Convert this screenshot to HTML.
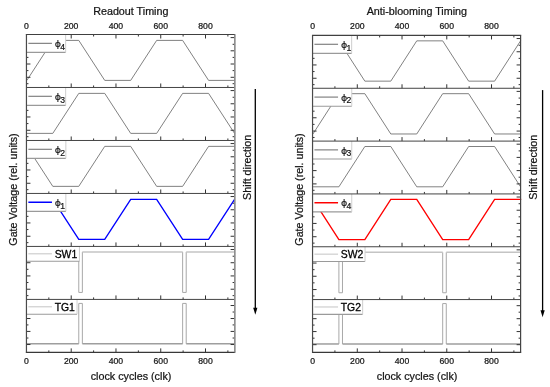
<!DOCTYPE html>
<html><head><meta charset="utf-8"><title>Readout and Anti-blooming Timing</title>
<style>html,body{margin:0;padding:0;background:#fff;width:550px;height:387px;overflow:hidden}svg text{font-family:'Liberation Sans', Arial, sans-serif}</style>
</head><body>
<svg width="550" height="387" viewBox="0 0 550 387" style="position:absolute;left:0;top:0;filter:blur(0.2px)" font-family="'Liberation Sans', Arial, sans-serif">
<rect x="0" y="0" width="550" height="387" fill="#fff"/>
<line x1="48.83" y1="34.50" x2="48.83" y2="36.50" stroke="#333333" stroke-width="1.0"/>
<line x1="71.21" y1="34.50" x2="71.21" y2="38.50" stroke="#333333" stroke-width="1.0"/>
<line x1="93.60" y1="34.50" x2="93.60" y2="36.50" stroke="#333333" stroke-width="1.0"/>
<line x1="115.98" y1="34.50" x2="115.98" y2="38.50" stroke="#333333" stroke-width="1.0"/>
<line x1="138.36" y1="34.50" x2="138.36" y2="36.50" stroke="#333333" stroke-width="1.0"/>
<line x1="160.74" y1="34.50" x2="160.74" y2="38.50" stroke="#333333" stroke-width="1.0"/>
<line x1="183.12" y1="34.50" x2="183.12" y2="36.50" stroke="#333333" stroke-width="1.0"/>
<line x1="205.50" y1="34.50" x2="205.50" y2="38.50" stroke="#333333" stroke-width="1.0"/>
<line x1="227.89" y1="34.50" x2="227.89" y2="36.50" stroke="#333333" stroke-width="1.0"/>
<polyline points="26.85,80.40 52.81,40.40 78.78,40.40 104.74,80.40 130.70,80.40 156.66,40.40 182.63,40.40 208.59,80.40 234.55,80.40 234.60,79.71" fill="none" stroke="#6a6a6a" stroke-width="0.85" stroke-linejoin="miter" />
<line x1="26.45" y1="37.60" x2="30.45" y2="37.60" stroke="#333333" stroke-width="1.0"/>
<line x1="230.60" y1="37.60" x2="234.60" y2="37.60" stroke="#333333" stroke-width="1.0"/>
<line x1="26.45" y1="50.80" x2="30.45" y2="50.80" stroke="#333333" stroke-width="1.0"/>
<line x1="230.60" y1="50.80" x2="234.60" y2="50.80" stroke="#333333" stroke-width="1.0"/>
<line x1="26.45" y1="64.00" x2="30.45" y2="64.00" stroke="#333333" stroke-width="1.0"/>
<line x1="230.60" y1="64.00" x2="234.60" y2="64.00" stroke="#333333" stroke-width="1.0"/>
<line x1="26.45" y1="77.30" x2="30.45" y2="77.30" stroke="#333333" stroke-width="1.0"/>
<line x1="230.60" y1="77.30" x2="234.60" y2="77.30" stroke="#333333" stroke-width="1.0"/>
<line x1="26.45" y1="44.30" x2="28.45" y2="44.30" stroke="#333333" stroke-width="1.0"/>
<line x1="232.60" y1="44.30" x2="234.60" y2="44.30" stroke="#333333" stroke-width="1.0"/>
<line x1="26.45" y1="57.40" x2="28.45" y2="57.40" stroke="#333333" stroke-width="1.0"/>
<line x1="232.60" y1="57.40" x2="234.60" y2="57.40" stroke="#333333" stroke-width="1.0"/>
<line x1="26.45" y1="70.60" x2="28.45" y2="70.60" stroke="#333333" stroke-width="1.0"/>
<line x1="232.60" y1="70.60" x2="234.60" y2="70.60" stroke="#333333" stroke-width="1.0"/>
<line x1="26.45" y1="83.70" x2="28.45" y2="83.70" stroke="#333333" stroke-width="1.0"/>
<line x1="232.60" y1="83.70" x2="234.60" y2="83.70" stroke="#333333" stroke-width="1.0"/>
<line x1="48.83" y1="87.48" x2="48.83" y2="85.48" stroke="#333333" stroke-width="1.0"/>
<line x1="71.21" y1="87.48" x2="71.21" y2="83.48" stroke="#333333" stroke-width="1.0"/>
<line x1="93.60" y1="87.48" x2="93.60" y2="85.48" stroke="#333333" stroke-width="1.0"/>
<line x1="115.98" y1="87.48" x2="115.98" y2="83.48" stroke="#333333" stroke-width="1.0"/>
<line x1="138.36" y1="87.48" x2="138.36" y2="85.48" stroke="#333333" stroke-width="1.0"/>
<line x1="160.74" y1="87.48" x2="160.74" y2="83.48" stroke="#333333" stroke-width="1.0"/>
<line x1="183.12" y1="87.48" x2="183.12" y2="85.48" stroke="#333333" stroke-width="1.0"/>
<line x1="205.50" y1="87.48" x2="205.50" y2="83.48" stroke="#333333" stroke-width="1.0"/>
<line x1="227.89" y1="87.48" x2="227.89" y2="85.48" stroke="#333333" stroke-width="1.0"/>
<rect x="26.45" y="34.50" width="39.20" height="17.90" fill="#fff" stroke="none"/>
<line x1="26.45" y1="52.40" x2="65.65" y2="52.40" stroke="#9a9a9a" stroke-width="1.1"/>
<line x1="65.65" y1="34.50" x2="65.65" y2="52.40" stroke="#cfcfcf" stroke-width="1.0"/>
<line x1="28.35" y1="43.30" x2="51.95" y2="43.30" stroke="#6a6a6a" stroke-width="1.0"/>
<text x="54.85" y="46.90" font-size="9.5" fill="#111" stroke="#111" stroke-width="0.12" style="font-family:'DejaVu Sans', sans-serif">&#981;</text>
<text x="60.35" y="49.60" font-size="8.6" fill="#111" stroke="#111" stroke-width="0.2">4</text>
<polyline points="26.85,133.38 52.81,133.38 78.78,93.38 104.74,93.38 130.70,133.38 156.66,133.38 182.63,93.38 208.59,93.38 234.55,133.38 234.60,133.38" fill="none" stroke="#6a6a6a" stroke-width="0.85" stroke-linejoin="miter" />
<line x1="26.45" y1="90.58" x2="30.45" y2="90.58" stroke="#333333" stroke-width="1.0"/>
<line x1="230.60" y1="90.58" x2="234.60" y2="90.58" stroke="#333333" stroke-width="1.0"/>
<line x1="26.45" y1="103.78" x2="30.45" y2="103.78" stroke="#333333" stroke-width="1.0"/>
<line x1="230.60" y1="103.78" x2="234.60" y2="103.78" stroke="#333333" stroke-width="1.0"/>
<line x1="26.45" y1="116.98" x2="30.45" y2="116.98" stroke="#333333" stroke-width="1.0"/>
<line x1="230.60" y1="116.98" x2="234.60" y2="116.98" stroke="#333333" stroke-width="1.0"/>
<line x1="26.45" y1="130.28" x2="30.45" y2="130.28" stroke="#333333" stroke-width="1.0"/>
<line x1="230.60" y1="130.28" x2="234.60" y2="130.28" stroke="#333333" stroke-width="1.0"/>
<line x1="26.45" y1="97.28" x2="28.45" y2="97.28" stroke="#333333" stroke-width="1.0"/>
<line x1="232.60" y1="97.28" x2="234.60" y2="97.28" stroke="#333333" stroke-width="1.0"/>
<line x1="26.45" y1="110.38" x2="28.45" y2="110.38" stroke="#333333" stroke-width="1.0"/>
<line x1="232.60" y1="110.38" x2="234.60" y2="110.38" stroke="#333333" stroke-width="1.0"/>
<line x1="26.45" y1="123.58" x2="28.45" y2="123.58" stroke="#333333" stroke-width="1.0"/>
<line x1="232.60" y1="123.58" x2="234.60" y2="123.58" stroke="#333333" stroke-width="1.0"/>
<line x1="26.45" y1="136.68" x2="28.45" y2="136.68" stroke="#333333" stroke-width="1.0"/>
<line x1="232.60" y1="136.68" x2="234.60" y2="136.68" stroke="#333333" stroke-width="1.0"/>
<line x1="48.83" y1="140.47" x2="48.83" y2="138.47" stroke="#333333" stroke-width="1.0"/>
<line x1="71.21" y1="140.47" x2="71.21" y2="136.47" stroke="#333333" stroke-width="1.0"/>
<line x1="93.60" y1="140.47" x2="93.60" y2="138.47" stroke="#333333" stroke-width="1.0"/>
<line x1="115.98" y1="140.47" x2="115.98" y2="136.47" stroke="#333333" stroke-width="1.0"/>
<line x1="138.36" y1="140.47" x2="138.36" y2="138.47" stroke="#333333" stroke-width="1.0"/>
<line x1="160.74" y1="140.47" x2="160.74" y2="136.47" stroke="#333333" stroke-width="1.0"/>
<line x1="183.12" y1="140.47" x2="183.12" y2="138.47" stroke="#333333" stroke-width="1.0"/>
<line x1="205.50" y1="140.47" x2="205.50" y2="136.47" stroke="#333333" stroke-width="1.0"/>
<line x1="227.89" y1="140.47" x2="227.89" y2="138.47" stroke="#333333" stroke-width="1.0"/>
<rect x="26.45" y="87.48" width="39.20" height="17.90" fill="#fff" stroke="none"/>
<line x1="26.45" y1="105.38" x2="65.65" y2="105.38" stroke="#9a9a9a" stroke-width="1.1"/>
<line x1="65.65" y1="87.48" x2="65.65" y2="105.38" stroke="#cfcfcf" stroke-width="1.0"/>
<line x1="28.35" y1="96.28" x2="51.95" y2="96.28" stroke="#6a6a6a" stroke-width="1.0"/>
<text x="54.85" y="99.88" font-size="9.5" fill="#111" stroke="#111" stroke-width="0.12" style="font-family:'DejaVu Sans', sans-serif">&#981;</text>
<text x="60.35" y="102.58" font-size="8.6" fill="#111" stroke="#111" stroke-width="0.2">3</text>
<polyline points="26.85,146.37 52.81,186.37 78.78,186.37 104.74,146.37 130.70,146.37 156.66,186.37 182.63,186.37 208.59,146.37 234.55,146.37 234.60,147.06" fill="none" stroke="#6a6a6a" stroke-width="0.85" stroke-linejoin="miter" />
<line x1="26.45" y1="143.57" x2="30.45" y2="143.57" stroke="#333333" stroke-width="1.0"/>
<line x1="230.60" y1="143.57" x2="234.60" y2="143.57" stroke="#333333" stroke-width="1.0"/>
<line x1="26.45" y1="156.77" x2="30.45" y2="156.77" stroke="#333333" stroke-width="1.0"/>
<line x1="230.60" y1="156.77" x2="234.60" y2="156.77" stroke="#333333" stroke-width="1.0"/>
<line x1="26.45" y1="169.97" x2="30.45" y2="169.97" stroke="#333333" stroke-width="1.0"/>
<line x1="230.60" y1="169.97" x2="234.60" y2="169.97" stroke="#333333" stroke-width="1.0"/>
<line x1="26.45" y1="183.27" x2="30.45" y2="183.27" stroke="#333333" stroke-width="1.0"/>
<line x1="230.60" y1="183.27" x2="234.60" y2="183.27" stroke="#333333" stroke-width="1.0"/>
<line x1="26.45" y1="150.27" x2="28.45" y2="150.27" stroke="#333333" stroke-width="1.0"/>
<line x1="232.60" y1="150.27" x2="234.60" y2="150.27" stroke="#333333" stroke-width="1.0"/>
<line x1="26.45" y1="163.37" x2="28.45" y2="163.37" stroke="#333333" stroke-width="1.0"/>
<line x1="232.60" y1="163.37" x2="234.60" y2="163.37" stroke="#333333" stroke-width="1.0"/>
<line x1="26.45" y1="176.57" x2="28.45" y2="176.57" stroke="#333333" stroke-width="1.0"/>
<line x1="232.60" y1="176.57" x2="234.60" y2="176.57" stroke="#333333" stroke-width="1.0"/>
<line x1="26.45" y1="189.67" x2="28.45" y2="189.67" stroke="#333333" stroke-width="1.0"/>
<line x1="232.60" y1="189.67" x2="234.60" y2="189.67" stroke="#333333" stroke-width="1.0"/>
<line x1="48.83" y1="193.45" x2="48.83" y2="191.45" stroke="#333333" stroke-width="1.0"/>
<line x1="71.21" y1="193.45" x2="71.21" y2="189.45" stroke="#333333" stroke-width="1.0"/>
<line x1="93.60" y1="193.45" x2="93.60" y2="191.45" stroke="#333333" stroke-width="1.0"/>
<line x1="115.98" y1="193.45" x2="115.98" y2="189.45" stroke="#333333" stroke-width="1.0"/>
<line x1="138.36" y1="193.45" x2="138.36" y2="191.45" stroke="#333333" stroke-width="1.0"/>
<line x1="160.74" y1="193.45" x2="160.74" y2="189.45" stroke="#333333" stroke-width="1.0"/>
<line x1="183.12" y1="193.45" x2="183.12" y2="191.45" stroke="#333333" stroke-width="1.0"/>
<line x1="205.50" y1="193.45" x2="205.50" y2="189.45" stroke="#333333" stroke-width="1.0"/>
<line x1="227.89" y1="193.45" x2="227.89" y2="191.45" stroke="#333333" stroke-width="1.0"/>
<rect x="26.45" y="140.47" width="39.40" height="17.90" fill="#fff" stroke="none"/>
<line x1="26.45" y1="158.37" x2="65.85" y2="158.37" stroke="#9a9a9a" stroke-width="1.1"/>
<line x1="65.85" y1="140.47" x2="65.85" y2="158.37" stroke="#cfcfcf" stroke-width="1.0"/>
<line x1="28.35" y1="149.27" x2="51.95" y2="149.27" stroke="#6a6a6a" stroke-width="1.0"/>
<text x="54.85" y="152.87" font-size="9.5" fill="#111" stroke="#111" stroke-width="0.12" style="font-family:'DejaVu Sans', sans-serif">&#981;</text>
<text x="60.35" y="155.57" font-size="8.6" fill="#111" stroke="#111" stroke-width="0.2">2</text>
<polyline points="26.85,199.35 52.81,199.35 78.78,239.35 104.74,239.35 130.70,199.35 156.66,199.35 182.63,239.35 208.59,239.35 234.55,199.35 234.60,199.35" fill="none" stroke="#0000ff" stroke-width="1.35" stroke-linejoin="miter" />
<line x1="26.45" y1="196.55" x2="30.45" y2="196.55" stroke="#333333" stroke-width="1.0"/>
<line x1="230.60" y1="196.55" x2="234.60" y2="196.55" stroke="#333333" stroke-width="1.0"/>
<line x1="26.45" y1="209.75" x2="30.45" y2="209.75" stroke="#333333" stroke-width="1.0"/>
<line x1="230.60" y1="209.75" x2="234.60" y2="209.75" stroke="#333333" stroke-width="1.0"/>
<line x1="26.45" y1="222.95" x2="30.45" y2="222.95" stroke="#333333" stroke-width="1.0"/>
<line x1="230.60" y1="222.95" x2="234.60" y2="222.95" stroke="#333333" stroke-width="1.0"/>
<line x1="26.45" y1="236.25" x2="30.45" y2="236.25" stroke="#333333" stroke-width="1.0"/>
<line x1="230.60" y1="236.25" x2="234.60" y2="236.25" stroke="#333333" stroke-width="1.0"/>
<line x1="26.45" y1="203.25" x2="28.45" y2="203.25" stroke="#333333" stroke-width="1.0"/>
<line x1="232.60" y1="203.25" x2="234.60" y2="203.25" stroke="#333333" stroke-width="1.0"/>
<line x1="26.45" y1="216.35" x2="28.45" y2="216.35" stroke="#333333" stroke-width="1.0"/>
<line x1="232.60" y1="216.35" x2="234.60" y2="216.35" stroke="#333333" stroke-width="1.0"/>
<line x1="26.45" y1="229.55" x2="28.45" y2="229.55" stroke="#333333" stroke-width="1.0"/>
<line x1="232.60" y1="229.55" x2="234.60" y2="229.55" stroke="#333333" stroke-width="1.0"/>
<line x1="26.45" y1="242.65" x2="28.45" y2="242.65" stroke="#333333" stroke-width="1.0"/>
<line x1="232.60" y1="242.65" x2="234.60" y2="242.65" stroke="#333333" stroke-width="1.0"/>
<line x1="48.83" y1="246.43" x2="48.83" y2="244.43" stroke="#333333" stroke-width="1.0"/>
<line x1="71.21" y1="246.43" x2="71.21" y2="242.43" stroke="#333333" stroke-width="1.0"/>
<line x1="93.60" y1="246.43" x2="93.60" y2="244.43" stroke="#333333" stroke-width="1.0"/>
<line x1="115.98" y1="246.43" x2="115.98" y2="242.43" stroke="#333333" stroke-width="1.0"/>
<line x1="138.36" y1="246.43" x2="138.36" y2="244.43" stroke="#333333" stroke-width="1.0"/>
<line x1="160.74" y1="246.43" x2="160.74" y2="242.43" stroke="#333333" stroke-width="1.0"/>
<line x1="183.12" y1="246.43" x2="183.12" y2="244.43" stroke="#333333" stroke-width="1.0"/>
<line x1="205.50" y1="246.43" x2="205.50" y2="242.43" stroke="#333333" stroke-width="1.0"/>
<line x1="227.89" y1="246.43" x2="227.89" y2="244.43" stroke="#333333" stroke-width="1.0"/>
<rect x="26.45" y="193.45" width="39.40" height="17.90" fill="#fff" stroke="none"/>
<line x1="26.45" y1="211.35" x2="65.85" y2="211.35" stroke="#9a9a9a" stroke-width="1.1"/>
<line x1="65.85" y1="193.45" x2="65.85" y2="211.35" stroke="#cfcfcf" stroke-width="1.0"/>
<line x1="28.35" y1="202.25" x2="51.95" y2="202.25" stroke="#0000ff" stroke-width="1.5"/>
<text x="54.85" y="205.85" font-size="9.5" fill="#111" stroke="#111" stroke-width="0.12" style="font-family:'DejaVu Sans', sans-serif">&#981;</text>
<text x="60.35" y="208.55" font-size="8.6" fill="#111" stroke="#111" stroke-width="0.2">1</text>
<polyline points="78.78,251.93 78.78,292.43 82.36,292.43 82.36,251.93" fill="none" stroke="#a8a8a8" stroke-width="1.0" stroke-linejoin="miter" />
<polyline points="182.63,251.93 182.63,292.43 186.21,292.43 186.21,251.93" fill="none" stroke="#a8a8a8" stroke-width="1.0" stroke-linejoin="miter" />
<line x1="26.45" y1="251.93" x2="78.78" y2="251.93" stroke="#c4c4c4" stroke-width="1.6"/>
<line x1="82.36" y1="251.93" x2="182.63" y2="251.93" stroke="#c4c4c4" stroke-width="1.6"/>
<line x1="186.21" y1="251.93" x2="234.60" y2="251.93" stroke="#c4c4c4" stroke-width="1.6"/>
<line x1="26.45" y1="249.53" x2="30.45" y2="249.53" stroke="#333333" stroke-width="1.0"/>
<line x1="230.60" y1="249.53" x2="234.60" y2="249.53" stroke="#333333" stroke-width="1.0"/>
<line x1="26.45" y1="262.73" x2="30.45" y2="262.73" stroke="#333333" stroke-width="1.0"/>
<line x1="230.60" y1="262.73" x2="234.60" y2="262.73" stroke="#333333" stroke-width="1.0"/>
<line x1="26.45" y1="275.93" x2="30.45" y2="275.93" stroke="#333333" stroke-width="1.0"/>
<line x1="230.60" y1="275.93" x2="234.60" y2="275.93" stroke="#333333" stroke-width="1.0"/>
<line x1="26.45" y1="289.23" x2="30.45" y2="289.23" stroke="#333333" stroke-width="1.0"/>
<line x1="230.60" y1="289.23" x2="234.60" y2="289.23" stroke="#333333" stroke-width="1.0"/>
<line x1="26.45" y1="256.23" x2="28.45" y2="256.23" stroke="#333333" stroke-width="1.0"/>
<line x1="232.60" y1="256.23" x2="234.60" y2="256.23" stroke="#333333" stroke-width="1.0"/>
<line x1="26.45" y1="269.33" x2="28.45" y2="269.33" stroke="#333333" stroke-width="1.0"/>
<line x1="232.60" y1="269.33" x2="234.60" y2="269.33" stroke="#333333" stroke-width="1.0"/>
<line x1="26.45" y1="282.53" x2="28.45" y2="282.53" stroke="#333333" stroke-width="1.0"/>
<line x1="232.60" y1="282.53" x2="234.60" y2="282.53" stroke="#333333" stroke-width="1.0"/>
<line x1="26.45" y1="295.63" x2="28.45" y2="295.63" stroke="#333333" stroke-width="1.0"/>
<line x1="232.60" y1="295.63" x2="234.60" y2="295.63" stroke="#333333" stroke-width="1.0"/>
<line x1="48.83" y1="299.42" x2="48.83" y2="297.42" stroke="#333333" stroke-width="1.0"/>
<line x1="71.21" y1="299.42" x2="71.21" y2="295.42" stroke="#333333" stroke-width="1.0"/>
<line x1="93.60" y1="299.42" x2="93.60" y2="297.42" stroke="#333333" stroke-width="1.0"/>
<line x1="115.98" y1="299.42" x2="115.98" y2="295.42" stroke="#333333" stroke-width="1.0"/>
<line x1="138.36" y1="299.42" x2="138.36" y2="297.42" stroke="#333333" stroke-width="1.0"/>
<line x1="160.74" y1="299.42" x2="160.74" y2="295.42" stroke="#333333" stroke-width="1.0"/>
<line x1="183.12" y1="299.42" x2="183.12" y2="297.42" stroke="#333333" stroke-width="1.0"/>
<line x1="205.50" y1="299.42" x2="205.50" y2="295.42" stroke="#333333" stroke-width="1.0"/>
<line x1="227.89" y1="299.42" x2="227.89" y2="297.42" stroke="#333333" stroke-width="1.0"/>
<rect x="26.45" y="246.43" width="53.00" height="14.80" fill="#fff" stroke="none"/>
<line x1="26.45" y1="261.23" x2="79.45" y2="261.23" stroke="#9a9a9a" stroke-width="1.1"/>
<line x1="79.45" y1="246.43" x2="79.45" y2="261.23" stroke="#cfcfcf" stroke-width="1.0"/>
<line x1="28.35" y1="253.83" x2="51.95" y2="253.83" stroke="#c4c4c4" stroke-width="1.0"/>
<text x="54.65" y="257.53" font-size="10.4" fill="#000" stroke="#000" stroke-width="0.28">SW1</text>
<polyline points="78.78,343.82 78.78,303.42 82.36,303.42 82.36,343.82" fill="none" stroke="#a8a8a8" stroke-width="1.0" stroke-linejoin="miter" />
<polyline points="182.63,343.82 182.63,303.42 186.21,303.42 186.21,343.82" fill="none" stroke="#a8a8a8" stroke-width="1.0" stroke-linejoin="miter" />
<line x1="26.45" y1="343.82" x2="78.78" y2="343.82" stroke="#9e9e9e" stroke-width="1.5"/>
<line x1="82.36" y1="343.82" x2="182.63" y2="343.82" stroke="#9e9e9e" stroke-width="1.5"/>
<line x1="186.21" y1="343.82" x2="234.60" y2="343.82" stroke="#9e9e9e" stroke-width="1.5"/>
<line x1="26.45" y1="305.52" x2="30.45" y2="305.52" stroke="#333333" stroke-width="1.0"/>
<line x1="230.60" y1="305.52" x2="234.60" y2="305.52" stroke="#333333" stroke-width="1.0"/>
<line x1="26.45" y1="318.52" x2="30.45" y2="318.52" stroke="#333333" stroke-width="1.0"/>
<line x1="230.60" y1="318.52" x2="234.60" y2="318.52" stroke="#333333" stroke-width="1.0"/>
<line x1="26.45" y1="331.42" x2="30.45" y2="331.42" stroke="#333333" stroke-width="1.0"/>
<line x1="230.60" y1="331.42" x2="234.60" y2="331.42" stroke="#333333" stroke-width="1.0"/>
<line x1="26.45" y1="344.52" x2="30.45" y2="344.52" stroke="#333333" stroke-width="1.0"/>
<line x1="230.60" y1="344.52" x2="234.60" y2="344.52" stroke="#333333" stroke-width="1.0"/>
<line x1="26.45" y1="312.02" x2="28.45" y2="312.02" stroke="#333333" stroke-width="1.0"/>
<line x1="232.60" y1="312.02" x2="234.60" y2="312.02" stroke="#333333" stroke-width="1.0"/>
<line x1="26.45" y1="324.92" x2="28.45" y2="324.92" stroke="#333333" stroke-width="1.0"/>
<line x1="232.60" y1="324.92" x2="234.60" y2="324.92" stroke="#333333" stroke-width="1.0"/>
<line x1="26.45" y1="338.02" x2="28.45" y2="338.02" stroke="#333333" stroke-width="1.0"/>
<line x1="232.60" y1="338.02" x2="234.60" y2="338.02" stroke="#333333" stroke-width="1.0"/>
<line x1="48.83" y1="352.40" x2="48.83" y2="350.40" stroke="#333333" stroke-width="1.0"/>
<line x1="71.21" y1="352.40" x2="71.21" y2="348.40" stroke="#333333" stroke-width="1.0"/>
<line x1="93.60" y1="352.40" x2="93.60" y2="350.40" stroke="#333333" stroke-width="1.0"/>
<line x1="115.98" y1="352.40" x2="115.98" y2="348.40" stroke="#333333" stroke-width="1.0"/>
<line x1="138.36" y1="352.40" x2="138.36" y2="350.40" stroke="#333333" stroke-width="1.0"/>
<line x1="160.74" y1="352.40" x2="160.74" y2="348.40" stroke="#333333" stroke-width="1.0"/>
<line x1="183.12" y1="352.40" x2="183.12" y2="350.40" stroke="#333333" stroke-width="1.0"/>
<line x1="205.50" y1="352.40" x2="205.50" y2="348.40" stroke="#333333" stroke-width="1.0"/>
<line x1="227.89" y1="352.40" x2="227.89" y2="350.40" stroke="#333333" stroke-width="1.0"/>
<rect x="26.45" y="299.42" width="50.60" height="14.80" fill="#fff" stroke="none"/>
<line x1="26.45" y1="314.22" x2="77.05" y2="314.22" stroke="#9a9a9a" stroke-width="1.1"/>
<line x1="77.05" y1="299.42" x2="77.05" y2="314.22" stroke="#cfcfcf" stroke-width="1.0"/>
<line x1="28.35" y1="306.82" x2="51.95" y2="306.82" stroke="#c4c4c4" stroke-width="1.0"/>
<text x="54.65" y="310.52" font-size="10.4" fill="#000" stroke="#000" stroke-width="0.28">TG1</text>
<line x1="26.45" y1="87.48" x2="234.60" y2="87.48" stroke="#444444" stroke-width="1.0"/>
<line x1="26.45" y1="140.47" x2="234.60" y2="140.47" stroke="#444444" stroke-width="1.0"/>
<line x1="26.45" y1="193.45" x2="234.60" y2="193.45" stroke="#444444" stroke-width="1.0"/>
<line x1="26.45" y1="246.43" x2="234.60" y2="246.43" stroke="#444444" stroke-width="1.0"/>
<line x1="26.45" y1="299.42" x2="234.60" y2="299.42" stroke="#444444" stroke-width="1.0"/>
<line x1="25.85" y1="34.50" x2="235.20" y2="34.50" stroke="#404040" stroke-width="1.2"/>
<line x1="25.85" y1="352.40" x2="235.20" y2="352.40" stroke="#383838" stroke-width="1.2"/>
<line x1="26.45" y1="34.50" x2="26.45" y2="352.40" stroke="#4a4a4a" stroke-width="1.2"/>
<line x1="234.85" y1="34.50" x2="234.85" y2="352.40" stroke="#8a8a8a" stroke-width="1.6"/>
<text x="0.00" y="0.00" font-size="9.2" text-anchor="middle" fill="#151515" stroke="#151515" stroke-width="0.25" transform="translate(26.45 28.55) scale(0.94 1)">0</text>
<text x="0.00" y="0.00" font-size="9.2" text-anchor="middle" fill="#151515" stroke="#151515" stroke-width="0.25" transform="translate(26.45 363.75) scale(0.94 1)">0</text>
<text x="0.00" y="0.00" font-size="9.2" text-anchor="middle" fill="#151515" stroke="#151515" stroke-width="0.25" transform="translate(71.21 28.55) scale(0.94 1)">200</text>
<text x="0.00" y="0.00" font-size="9.2" text-anchor="middle" fill="#151515" stroke="#151515" stroke-width="0.25" transform="translate(71.21 363.75) scale(0.94 1)">200</text>
<text x="0.00" y="0.00" font-size="9.2" text-anchor="middle" fill="#151515" stroke="#151515" stroke-width="0.25" transform="translate(115.98 28.55) scale(0.94 1)">400</text>
<text x="0.00" y="0.00" font-size="9.2" text-anchor="middle" fill="#151515" stroke="#151515" stroke-width="0.25" transform="translate(115.98 363.75) scale(0.94 1)">400</text>
<text x="0.00" y="0.00" font-size="9.2" text-anchor="middle" fill="#151515" stroke="#151515" stroke-width="0.25" transform="translate(160.74 28.55) scale(0.94 1)">600</text>
<text x="0.00" y="0.00" font-size="9.2" text-anchor="middle" fill="#151515" stroke="#151515" stroke-width="0.25" transform="translate(160.74 363.75) scale(0.94 1)">600</text>
<text x="0.00" y="0.00" font-size="9.2" text-anchor="middle" fill="#151515" stroke="#151515" stroke-width="0.25" transform="translate(205.50 28.55) scale(0.94 1)">800</text>
<text x="0.00" y="0.00" font-size="9.2" text-anchor="middle" fill="#151515" stroke="#151515" stroke-width="0.25" transform="translate(205.50 363.75) scale(0.94 1)">800</text>
<text x="130.83" y="15.20" font-size="10.75" text-anchor="middle" fill="#151515" stroke="#151515" stroke-width="0.24" >Readout Timing</text>
<text x="131.03" y="379.80" font-size="10.75" text-anchor="middle" fill="#151515" stroke="#151515" stroke-width="0.24" >clock cycles (clk)</text>
<text x="17.40" y="189.50" font-size="10.7" text-anchor="middle" fill="#151515" stroke="#151515" stroke-width="0.24" transform="rotate(-90 17.4 189.5)">Gate Voltage (rel. units)</text>
<line x1="255.30" y1="89.10" x2="255.30" y2="309.70" stroke="#000" stroke-width="1.3"/>
<path d="M253.20,307.70 L257.40,307.70 L255.30,314.70 Z" fill="#000"/>
<text x="251.50" y="167.30" font-size="10.75" text-anchor="middle" fill="#151515" stroke="#151515" stroke-width="0.24" transform="rotate(-90 251.5 167.3)">Shift direction</text>
<line x1="334.92" y1="35.45" x2="334.92" y2="37.45" stroke="#333333" stroke-width="1.0"/>
<line x1="357.29" y1="35.45" x2="357.29" y2="39.45" stroke="#333333" stroke-width="1.0"/>
<line x1="379.66" y1="35.45" x2="379.66" y2="37.45" stroke="#333333" stroke-width="1.0"/>
<line x1="402.03" y1="35.45" x2="402.03" y2="39.45" stroke="#333333" stroke-width="1.0"/>
<line x1="424.40" y1="35.45" x2="424.40" y2="37.45" stroke="#333333" stroke-width="1.0"/>
<line x1="446.78" y1="35.45" x2="446.78" y2="39.45" stroke="#333333" stroke-width="1.0"/>
<line x1="469.15" y1="35.45" x2="469.15" y2="37.45" stroke="#333333" stroke-width="1.0"/>
<line x1="491.52" y1="35.45" x2="491.52" y2="39.45" stroke="#333333" stroke-width="1.0"/>
<line x1="513.89" y1="35.45" x2="513.89" y2="37.45" stroke="#333333" stroke-width="1.0"/>
<polyline points="312.95,40.85 338.90,40.85 364.85,81.15 390.80,81.15 416.75,40.85 442.70,40.85 468.65,81.15 494.60,81.15 520.55,40.85 520.60,40.85" fill="none" stroke="#6a6a6a" stroke-width="0.85" stroke-linejoin="miter" />
<line x1="312.55" y1="38.55" x2="316.55" y2="38.55" stroke="#333333" stroke-width="1.0"/>
<line x1="516.60" y1="38.55" x2="520.60" y2="38.55" stroke="#333333" stroke-width="1.0"/>
<line x1="312.55" y1="51.75" x2="316.55" y2="51.75" stroke="#333333" stroke-width="1.0"/>
<line x1="516.60" y1="51.75" x2="520.60" y2="51.75" stroke="#333333" stroke-width="1.0"/>
<line x1="312.55" y1="64.95" x2="316.55" y2="64.95" stroke="#333333" stroke-width="1.0"/>
<line x1="516.60" y1="64.95" x2="520.60" y2="64.95" stroke="#333333" stroke-width="1.0"/>
<line x1="312.55" y1="78.25" x2="316.55" y2="78.25" stroke="#333333" stroke-width="1.0"/>
<line x1="516.60" y1="78.25" x2="520.60" y2="78.25" stroke="#333333" stroke-width="1.0"/>
<line x1="312.55" y1="45.25" x2="314.55" y2="45.25" stroke="#333333" stroke-width="1.0"/>
<line x1="518.60" y1="45.25" x2="520.60" y2="45.25" stroke="#333333" stroke-width="1.0"/>
<line x1="312.55" y1="58.35" x2="314.55" y2="58.35" stroke="#333333" stroke-width="1.0"/>
<line x1="518.60" y1="58.35" x2="520.60" y2="58.35" stroke="#333333" stroke-width="1.0"/>
<line x1="312.55" y1="71.55" x2="314.55" y2="71.55" stroke="#333333" stroke-width="1.0"/>
<line x1="518.60" y1="71.55" x2="520.60" y2="71.55" stroke="#333333" stroke-width="1.0"/>
<line x1="312.55" y1="84.65" x2="314.55" y2="84.65" stroke="#333333" stroke-width="1.0"/>
<line x1="518.60" y1="84.65" x2="520.60" y2="84.65" stroke="#333333" stroke-width="1.0"/>
<line x1="334.92" y1="88.28" x2="334.92" y2="86.28" stroke="#333333" stroke-width="1.0"/>
<line x1="357.29" y1="88.28" x2="357.29" y2="84.28" stroke="#333333" stroke-width="1.0"/>
<line x1="379.66" y1="88.28" x2="379.66" y2="86.28" stroke="#333333" stroke-width="1.0"/>
<line x1="402.03" y1="88.28" x2="402.03" y2="84.28" stroke="#333333" stroke-width="1.0"/>
<line x1="424.40" y1="88.28" x2="424.40" y2="86.28" stroke="#333333" stroke-width="1.0"/>
<line x1="446.78" y1="88.28" x2="446.78" y2="84.28" stroke="#333333" stroke-width="1.0"/>
<line x1="469.15" y1="88.28" x2="469.15" y2="86.28" stroke="#333333" stroke-width="1.0"/>
<line x1="491.52" y1="88.28" x2="491.52" y2="84.28" stroke="#333333" stroke-width="1.0"/>
<line x1="513.89" y1="88.28" x2="513.89" y2="86.28" stroke="#333333" stroke-width="1.0"/>
<rect x="312.55" y="35.45" width="39.10" height="17.90" fill="#fff" stroke="none"/>
<line x1="312.55" y1="53.35" x2="351.65" y2="53.35" stroke="#9a9a9a" stroke-width="1.1"/>
<line x1="351.65" y1="35.45" x2="351.65" y2="53.35" stroke="#cfcfcf" stroke-width="1.0"/>
<line x1="314.45" y1="44.25" x2="338.05" y2="44.25" stroke="#6a6a6a" stroke-width="1.0"/>
<text x="340.95" y="47.85" font-size="9.5" fill="#111" stroke="#111" stroke-width="0.12" style="font-family:'DejaVu Sans', sans-serif">&#981;</text>
<text x="346.45" y="50.55" font-size="8.6" fill="#111" stroke="#111" stroke-width="0.2">1</text>
<polyline points="312.95,133.98 338.90,93.68 364.85,93.68 390.80,133.98 416.75,133.98 442.70,93.68 468.65,93.68 494.60,133.98 520.55,133.98 520.60,133.28" fill="none" stroke="#6a6a6a" stroke-width="0.85" stroke-linejoin="miter" />
<line x1="312.55" y1="91.38" x2="316.55" y2="91.38" stroke="#333333" stroke-width="1.0"/>
<line x1="516.60" y1="91.38" x2="520.60" y2="91.38" stroke="#333333" stroke-width="1.0"/>
<line x1="312.55" y1="104.58" x2="316.55" y2="104.58" stroke="#333333" stroke-width="1.0"/>
<line x1="516.60" y1="104.58" x2="520.60" y2="104.58" stroke="#333333" stroke-width="1.0"/>
<line x1="312.55" y1="117.78" x2="316.55" y2="117.78" stroke="#333333" stroke-width="1.0"/>
<line x1="516.60" y1="117.78" x2="520.60" y2="117.78" stroke="#333333" stroke-width="1.0"/>
<line x1="312.55" y1="131.07" x2="316.55" y2="131.07" stroke="#333333" stroke-width="1.0"/>
<line x1="516.60" y1="131.07" x2="520.60" y2="131.07" stroke="#333333" stroke-width="1.0"/>
<line x1="312.55" y1="98.08" x2="314.55" y2="98.08" stroke="#333333" stroke-width="1.0"/>
<line x1="518.60" y1="98.08" x2="520.60" y2="98.08" stroke="#333333" stroke-width="1.0"/>
<line x1="312.55" y1="111.18" x2="314.55" y2="111.18" stroke="#333333" stroke-width="1.0"/>
<line x1="518.60" y1="111.18" x2="520.60" y2="111.18" stroke="#333333" stroke-width="1.0"/>
<line x1="312.55" y1="124.38" x2="314.55" y2="124.38" stroke="#333333" stroke-width="1.0"/>
<line x1="518.60" y1="124.38" x2="520.60" y2="124.38" stroke="#333333" stroke-width="1.0"/>
<line x1="312.55" y1="137.48" x2="314.55" y2="137.48" stroke="#333333" stroke-width="1.0"/>
<line x1="518.60" y1="137.48" x2="520.60" y2="137.48" stroke="#333333" stroke-width="1.0"/>
<line x1="334.92" y1="141.10" x2="334.92" y2="139.10" stroke="#333333" stroke-width="1.0"/>
<line x1="357.29" y1="141.10" x2="357.29" y2="137.10" stroke="#333333" stroke-width="1.0"/>
<line x1="379.66" y1="141.10" x2="379.66" y2="139.10" stroke="#333333" stroke-width="1.0"/>
<line x1="402.03" y1="141.10" x2="402.03" y2="137.10" stroke="#333333" stroke-width="1.0"/>
<line x1="424.40" y1="141.10" x2="424.40" y2="139.10" stroke="#333333" stroke-width="1.0"/>
<line x1="446.78" y1="141.10" x2="446.78" y2="137.10" stroke="#333333" stroke-width="1.0"/>
<line x1="469.15" y1="141.10" x2="469.15" y2="139.10" stroke="#333333" stroke-width="1.0"/>
<line x1="491.52" y1="141.10" x2="491.52" y2="137.10" stroke="#333333" stroke-width="1.0"/>
<line x1="513.89" y1="141.10" x2="513.89" y2="139.10" stroke="#333333" stroke-width="1.0"/>
<rect x="312.55" y="88.28" width="39.20" height="17.90" fill="#fff" stroke="none"/>
<line x1="312.55" y1="106.18" x2="351.75" y2="106.18" stroke="#9a9a9a" stroke-width="1.1"/>
<line x1="351.75" y1="88.28" x2="351.75" y2="106.18" stroke="#cfcfcf" stroke-width="1.0"/>
<line x1="314.45" y1="97.08" x2="338.05" y2="97.08" stroke="#6a6a6a" stroke-width="1.0"/>
<text x="340.95" y="100.68" font-size="9.5" fill="#111" stroke="#111" stroke-width="0.12" style="font-family:'DejaVu Sans', sans-serif">&#981;</text>
<text x="346.45" y="103.38" font-size="8.6" fill="#111" stroke="#111" stroke-width="0.2">2</text>
<polyline points="312.95,186.80 338.90,186.80 364.85,146.50 390.80,146.50 416.75,186.80 442.70,186.80 468.65,146.50 494.60,146.50 520.55,186.80 520.60,186.80" fill="none" stroke="#6a6a6a" stroke-width="0.85" stroke-linejoin="miter" />
<line x1="312.55" y1="144.20" x2="316.55" y2="144.20" stroke="#333333" stroke-width="1.0"/>
<line x1="516.60" y1="144.20" x2="520.60" y2="144.20" stroke="#333333" stroke-width="1.0"/>
<line x1="312.55" y1="157.40" x2="316.55" y2="157.40" stroke="#333333" stroke-width="1.0"/>
<line x1="516.60" y1="157.40" x2="520.60" y2="157.40" stroke="#333333" stroke-width="1.0"/>
<line x1="312.55" y1="170.60" x2="316.55" y2="170.60" stroke="#333333" stroke-width="1.0"/>
<line x1="516.60" y1="170.60" x2="520.60" y2="170.60" stroke="#333333" stroke-width="1.0"/>
<line x1="312.55" y1="183.90" x2="316.55" y2="183.90" stroke="#333333" stroke-width="1.0"/>
<line x1="516.60" y1="183.90" x2="520.60" y2="183.90" stroke="#333333" stroke-width="1.0"/>
<line x1="312.55" y1="150.90" x2="314.55" y2="150.90" stroke="#333333" stroke-width="1.0"/>
<line x1="518.60" y1="150.90" x2="520.60" y2="150.90" stroke="#333333" stroke-width="1.0"/>
<line x1="312.55" y1="164.00" x2="314.55" y2="164.00" stroke="#333333" stroke-width="1.0"/>
<line x1="518.60" y1="164.00" x2="520.60" y2="164.00" stroke="#333333" stroke-width="1.0"/>
<line x1="312.55" y1="177.20" x2="314.55" y2="177.20" stroke="#333333" stroke-width="1.0"/>
<line x1="518.60" y1="177.20" x2="520.60" y2="177.20" stroke="#333333" stroke-width="1.0"/>
<line x1="312.55" y1="190.30" x2="314.55" y2="190.30" stroke="#333333" stroke-width="1.0"/>
<line x1="518.60" y1="190.30" x2="520.60" y2="190.30" stroke="#333333" stroke-width="1.0"/>
<line x1="334.92" y1="193.93" x2="334.92" y2="191.93" stroke="#333333" stroke-width="1.0"/>
<line x1="357.29" y1="193.93" x2="357.29" y2="189.93" stroke="#333333" stroke-width="1.0"/>
<line x1="379.66" y1="193.93" x2="379.66" y2="191.93" stroke="#333333" stroke-width="1.0"/>
<line x1="402.03" y1="193.93" x2="402.03" y2="189.93" stroke="#333333" stroke-width="1.0"/>
<line x1="424.40" y1="193.93" x2="424.40" y2="191.93" stroke="#333333" stroke-width="1.0"/>
<line x1="446.78" y1="193.93" x2="446.78" y2="189.93" stroke="#333333" stroke-width="1.0"/>
<line x1="469.15" y1="193.93" x2="469.15" y2="191.93" stroke="#333333" stroke-width="1.0"/>
<line x1="491.52" y1="193.93" x2="491.52" y2="189.93" stroke="#333333" stroke-width="1.0"/>
<line x1="513.89" y1="193.93" x2="513.89" y2="191.93" stroke="#333333" stroke-width="1.0"/>
<rect x="312.55" y="141.10" width="39.20" height="17.90" fill="#fff" stroke="none"/>
<line x1="312.55" y1="159.00" x2="351.75" y2="159.00" stroke="#9a9a9a" stroke-width="1.1"/>
<line x1="351.75" y1="141.10" x2="351.75" y2="159.00" stroke="#cfcfcf" stroke-width="1.0"/>
<line x1="314.45" y1="149.90" x2="338.05" y2="149.90" stroke="#6a6a6a" stroke-width="1.0"/>
<text x="340.95" y="153.50" font-size="9.5" fill="#111" stroke="#111" stroke-width="0.12" style="font-family:'DejaVu Sans', sans-serif">&#981;</text>
<text x="346.45" y="156.20" font-size="8.6" fill="#111" stroke="#111" stroke-width="0.2">3</text>
<polyline points="312.95,199.33 338.90,239.62 364.85,239.62 390.80,199.33 416.75,199.33 442.70,239.62 468.65,239.62 494.60,199.33 520.55,199.33 520.60,200.02" fill="none" stroke="#ff0000" stroke-width="1.35" stroke-linejoin="miter" />
<line x1="312.55" y1="197.03" x2="316.55" y2="197.03" stroke="#333333" stroke-width="1.0"/>
<line x1="516.60" y1="197.03" x2="520.60" y2="197.03" stroke="#333333" stroke-width="1.0"/>
<line x1="312.55" y1="210.23" x2="316.55" y2="210.23" stroke="#333333" stroke-width="1.0"/>
<line x1="516.60" y1="210.23" x2="520.60" y2="210.23" stroke="#333333" stroke-width="1.0"/>
<line x1="312.55" y1="223.43" x2="316.55" y2="223.43" stroke="#333333" stroke-width="1.0"/>
<line x1="516.60" y1="223.43" x2="520.60" y2="223.43" stroke="#333333" stroke-width="1.0"/>
<line x1="312.55" y1="236.73" x2="316.55" y2="236.73" stroke="#333333" stroke-width="1.0"/>
<line x1="516.60" y1="236.73" x2="520.60" y2="236.73" stroke="#333333" stroke-width="1.0"/>
<line x1="312.55" y1="203.73" x2="314.55" y2="203.73" stroke="#333333" stroke-width="1.0"/>
<line x1="518.60" y1="203.73" x2="520.60" y2="203.73" stroke="#333333" stroke-width="1.0"/>
<line x1="312.55" y1="216.83" x2="314.55" y2="216.83" stroke="#333333" stroke-width="1.0"/>
<line x1="518.60" y1="216.83" x2="520.60" y2="216.83" stroke="#333333" stroke-width="1.0"/>
<line x1="312.55" y1="230.03" x2="314.55" y2="230.03" stroke="#333333" stroke-width="1.0"/>
<line x1="518.60" y1="230.03" x2="520.60" y2="230.03" stroke="#333333" stroke-width="1.0"/>
<line x1="312.55" y1="243.12" x2="314.55" y2="243.12" stroke="#333333" stroke-width="1.0"/>
<line x1="518.60" y1="243.12" x2="520.60" y2="243.12" stroke="#333333" stroke-width="1.0"/>
<line x1="334.92" y1="246.75" x2="334.92" y2="244.75" stroke="#333333" stroke-width="1.0"/>
<line x1="357.29" y1="246.75" x2="357.29" y2="242.75" stroke="#333333" stroke-width="1.0"/>
<line x1="379.66" y1="246.75" x2="379.66" y2="244.75" stroke="#333333" stroke-width="1.0"/>
<line x1="402.03" y1="246.75" x2="402.03" y2="242.75" stroke="#333333" stroke-width="1.0"/>
<line x1="424.40" y1="246.75" x2="424.40" y2="244.75" stroke="#333333" stroke-width="1.0"/>
<line x1="446.78" y1="246.75" x2="446.78" y2="242.75" stroke="#333333" stroke-width="1.0"/>
<line x1="469.15" y1="246.75" x2="469.15" y2="244.75" stroke="#333333" stroke-width="1.0"/>
<line x1="491.52" y1="246.75" x2="491.52" y2="242.75" stroke="#333333" stroke-width="1.0"/>
<line x1="513.89" y1="246.75" x2="513.89" y2="244.75" stroke="#333333" stroke-width="1.0"/>
<rect x="312.55" y="193.93" width="39.20" height="17.90" fill="#fff" stroke="none"/>
<line x1="312.55" y1="211.83" x2="351.75" y2="211.83" stroke="#9a9a9a" stroke-width="1.1"/>
<line x1="351.75" y1="193.93" x2="351.75" y2="211.83" stroke="#cfcfcf" stroke-width="1.0"/>
<line x1="314.45" y1="202.73" x2="338.05" y2="202.73" stroke="#ff0000" stroke-width="1.5"/>
<text x="340.95" y="206.33" font-size="9.5" fill="#111" stroke="#111" stroke-width="0.12" style="font-family:'DejaVu Sans', sans-serif">&#981;</text>
<text x="346.45" y="209.03" font-size="8.6" fill="#111" stroke="#111" stroke-width="0.2">4</text>
<polyline points="338.90,252.25 338.90,292.75 342.48,292.75 342.48,252.25" fill="none" stroke="#a8a8a8" stroke-width="1.0" stroke-linejoin="miter" />
<polyline points="442.70,252.25 442.70,292.75 446.28,292.75 446.28,252.25" fill="none" stroke="#a8a8a8" stroke-width="1.0" stroke-linejoin="miter" />
<line x1="312.55" y1="252.25" x2="338.90" y2="252.25" stroke="#c4c4c4" stroke-width="1.6"/>
<line x1="342.48" y1="252.25" x2="442.70" y2="252.25" stroke="#c4c4c4" stroke-width="1.6"/>
<line x1="446.28" y1="252.25" x2="520.60" y2="252.25" stroke="#c4c4c4" stroke-width="1.6"/>
<line x1="312.55" y1="249.85" x2="316.55" y2="249.85" stroke="#333333" stroke-width="1.0"/>
<line x1="516.60" y1="249.85" x2="520.60" y2="249.85" stroke="#333333" stroke-width="1.0"/>
<line x1="312.55" y1="263.05" x2="316.55" y2="263.05" stroke="#333333" stroke-width="1.0"/>
<line x1="516.60" y1="263.05" x2="520.60" y2="263.05" stroke="#333333" stroke-width="1.0"/>
<line x1="312.55" y1="276.25" x2="316.55" y2="276.25" stroke="#333333" stroke-width="1.0"/>
<line x1="516.60" y1="276.25" x2="520.60" y2="276.25" stroke="#333333" stroke-width="1.0"/>
<line x1="312.55" y1="289.55" x2="316.55" y2="289.55" stroke="#333333" stroke-width="1.0"/>
<line x1="516.60" y1="289.55" x2="520.60" y2="289.55" stroke="#333333" stroke-width="1.0"/>
<line x1="312.55" y1="256.55" x2="314.55" y2="256.55" stroke="#333333" stroke-width="1.0"/>
<line x1="518.60" y1="256.55" x2="520.60" y2="256.55" stroke="#333333" stroke-width="1.0"/>
<line x1="312.55" y1="269.65" x2="314.55" y2="269.65" stroke="#333333" stroke-width="1.0"/>
<line x1="518.60" y1="269.65" x2="520.60" y2="269.65" stroke="#333333" stroke-width="1.0"/>
<line x1="312.55" y1="282.85" x2="314.55" y2="282.85" stroke="#333333" stroke-width="1.0"/>
<line x1="518.60" y1="282.85" x2="520.60" y2="282.85" stroke="#333333" stroke-width="1.0"/>
<line x1="312.55" y1="295.95" x2="314.55" y2="295.95" stroke="#333333" stroke-width="1.0"/>
<line x1="518.60" y1="295.95" x2="520.60" y2="295.95" stroke="#333333" stroke-width="1.0"/>
<line x1="334.92" y1="299.57" x2="334.92" y2="297.57" stroke="#333333" stroke-width="1.0"/>
<line x1="357.29" y1="299.57" x2="357.29" y2="295.57" stroke="#333333" stroke-width="1.0"/>
<line x1="379.66" y1="299.57" x2="379.66" y2="297.57" stroke="#333333" stroke-width="1.0"/>
<line x1="402.03" y1="299.57" x2="402.03" y2="295.57" stroke="#333333" stroke-width="1.0"/>
<line x1="424.40" y1="299.57" x2="424.40" y2="297.57" stroke="#333333" stroke-width="1.0"/>
<line x1="446.78" y1="299.57" x2="446.78" y2="295.57" stroke="#333333" stroke-width="1.0"/>
<line x1="469.15" y1="299.57" x2="469.15" y2="297.57" stroke="#333333" stroke-width="1.0"/>
<line x1="491.52" y1="299.57" x2="491.52" y2="295.57" stroke="#333333" stroke-width="1.0"/>
<line x1="513.89" y1="299.57" x2="513.89" y2="297.57" stroke="#333333" stroke-width="1.0"/>
<rect x="312.55" y="246.75" width="52.50" height="14.80" fill="#fff" stroke="none"/>
<line x1="312.55" y1="261.55" x2="365.05" y2="261.55" stroke="#9a9a9a" stroke-width="1.1"/>
<line x1="365.05" y1="246.75" x2="365.05" y2="261.55" stroke="#cfcfcf" stroke-width="1.0"/>
<line x1="314.45" y1="254.15" x2="338.05" y2="254.15" stroke="#c4c4c4" stroke-width="1.0"/>
<text x="340.75" y="257.85" font-size="10.4" fill="#000" stroke="#000" stroke-width="0.28">SW2</text>
<polyline points="338.90,343.97 338.90,303.57 342.48,303.57 342.48,343.97" fill="none" stroke="#a8a8a8" stroke-width="1.0" stroke-linejoin="miter" />
<polyline points="442.70,343.97 442.70,303.57 446.28,303.57 446.28,343.97" fill="none" stroke="#a8a8a8" stroke-width="1.0" stroke-linejoin="miter" />
<line x1="312.55" y1="343.97" x2="338.90" y2="343.97" stroke="#9e9e9e" stroke-width="1.5"/>
<line x1="342.48" y1="343.97" x2="442.70" y2="343.97" stroke="#9e9e9e" stroke-width="1.5"/>
<line x1="446.28" y1="343.97" x2="520.60" y2="343.97" stroke="#9e9e9e" stroke-width="1.5"/>
<line x1="312.55" y1="305.68" x2="316.55" y2="305.68" stroke="#333333" stroke-width="1.0"/>
<line x1="516.60" y1="305.68" x2="520.60" y2="305.68" stroke="#333333" stroke-width="1.0"/>
<line x1="312.55" y1="318.68" x2="316.55" y2="318.68" stroke="#333333" stroke-width="1.0"/>
<line x1="516.60" y1="318.68" x2="520.60" y2="318.68" stroke="#333333" stroke-width="1.0"/>
<line x1="312.55" y1="331.57" x2="316.55" y2="331.57" stroke="#333333" stroke-width="1.0"/>
<line x1="516.60" y1="331.57" x2="520.60" y2="331.57" stroke="#333333" stroke-width="1.0"/>
<line x1="312.55" y1="344.68" x2="316.55" y2="344.68" stroke="#333333" stroke-width="1.0"/>
<line x1="516.60" y1="344.68" x2="520.60" y2="344.68" stroke="#333333" stroke-width="1.0"/>
<line x1="312.55" y1="312.18" x2="314.55" y2="312.18" stroke="#333333" stroke-width="1.0"/>
<line x1="518.60" y1="312.18" x2="520.60" y2="312.18" stroke="#333333" stroke-width="1.0"/>
<line x1="312.55" y1="325.07" x2="314.55" y2="325.07" stroke="#333333" stroke-width="1.0"/>
<line x1="518.60" y1="325.07" x2="520.60" y2="325.07" stroke="#333333" stroke-width="1.0"/>
<line x1="312.55" y1="338.18" x2="314.55" y2="338.18" stroke="#333333" stroke-width="1.0"/>
<line x1="518.60" y1="338.18" x2="520.60" y2="338.18" stroke="#333333" stroke-width="1.0"/>
<line x1="334.92" y1="352.40" x2="334.92" y2="350.40" stroke="#333333" stroke-width="1.0"/>
<line x1="357.29" y1="352.40" x2="357.29" y2="348.40" stroke="#333333" stroke-width="1.0"/>
<line x1="379.66" y1="352.40" x2="379.66" y2="350.40" stroke="#333333" stroke-width="1.0"/>
<line x1="402.03" y1="352.40" x2="402.03" y2="348.40" stroke="#333333" stroke-width="1.0"/>
<line x1="424.40" y1="352.40" x2="424.40" y2="350.40" stroke="#333333" stroke-width="1.0"/>
<line x1="446.78" y1="352.40" x2="446.78" y2="348.40" stroke="#333333" stroke-width="1.0"/>
<line x1="469.15" y1="352.40" x2="469.15" y2="350.40" stroke="#333333" stroke-width="1.0"/>
<line x1="491.52" y1="352.40" x2="491.52" y2="348.40" stroke="#333333" stroke-width="1.0"/>
<line x1="513.89" y1="352.40" x2="513.89" y2="350.40" stroke="#333333" stroke-width="1.0"/>
<rect x="312.55" y="299.57" width="50.10" height="14.80" fill="#fff" stroke="none"/>
<line x1="312.55" y1="314.38" x2="362.65" y2="314.38" stroke="#9a9a9a" stroke-width="1.1"/>
<line x1="362.65" y1="299.57" x2="362.65" y2="314.38" stroke="#cfcfcf" stroke-width="1.0"/>
<line x1="314.45" y1="306.97" x2="338.05" y2="306.97" stroke="#c4c4c4" stroke-width="1.0"/>
<text x="340.75" y="310.68" font-size="10.4" fill="#000" stroke="#000" stroke-width="0.28">TG2</text>
<line x1="312.55" y1="88.28" x2="520.60" y2="88.28" stroke="#444444" stroke-width="1.0"/>
<line x1="312.55" y1="141.10" x2="520.60" y2="141.10" stroke="#444444" stroke-width="1.0"/>
<line x1="312.55" y1="193.93" x2="520.60" y2="193.93" stroke="#444444" stroke-width="1.0"/>
<line x1="312.55" y1="246.75" x2="520.60" y2="246.75" stroke="#444444" stroke-width="1.0"/>
<line x1="312.55" y1="299.57" x2="520.60" y2="299.57" stroke="#444444" stroke-width="1.0"/>
<line x1="311.95" y1="35.45" x2="521.20" y2="35.45" stroke="#404040" stroke-width="1.2"/>
<line x1="311.95" y1="352.40" x2="521.20" y2="352.40" stroke="#383838" stroke-width="1.2"/>
<line x1="312.55" y1="35.45" x2="312.55" y2="352.40" stroke="#4a4a4a" stroke-width="1.2"/>
<line x1="520.60" y1="35.45" x2="520.60" y2="352.40" stroke="#444444" stroke-width="1.2"/>
<text x="0.00" y="0.00" font-size="9.2" text-anchor="middle" fill="#151515" stroke="#151515" stroke-width="0.25" transform="translate(312.55 28.55) scale(0.94 1)">0</text>
<text x="0.00" y="0.00" font-size="9.2" text-anchor="middle" fill="#151515" stroke="#151515" stroke-width="0.25" transform="translate(312.55 363.75) scale(0.94 1)">0</text>
<text x="0.00" y="0.00" font-size="9.2" text-anchor="middle" fill="#151515" stroke="#151515" stroke-width="0.25" transform="translate(357.29 28.55) scale(0.94 1)">200</text>
<text x="0.00" y="0.00" font-size="9.2" text-anchor="middle" fill="#151515" stroke="#151515" stroke-width="0.25" transform="translate(357.29 363.75) scale(0.94 1)">200</text>
<text x="0.00" y="0.00" font-size="9.2" text-anchor="middle" fill="#151515" stroke="#151515" stroke-width="0.25" transform="translate(402.03 28.55) scale(0.94 1)">400</text>
<text x="0.00" y="0.00" font-size="9.2" text-anchor="middle" fill="#151515" stroke="#151515" stroke-width="0.25" transform="translate(402.03 363.75) scale(0.94 1)">400</text>
<text x="0.00" y="0.00" font-size="9.2" text-anchor="middle" fill="#151515" stroke="#151515" stroke-width="0.25" transform="translate(446.78 28.55) scale(0.94 1)">600</text>
<text x="0.00" y="0.00" font-size="9.2" text-anchor="middle" fill="#151515" stroke="#151515" stroke-width="0.25" transform="translate(446.78 363.75) scale(0.94 1)">600</text>
<text x="0.00" y="0.00" font-size="9.2" text-anchor="middle" fill="#151515" stroke="#151515" stroke-width="0.25" transform="translate(491.52 28.55) scale(0.94 1)">800</text>
<text x="0.00" y="0.00" font-size="9.2" text-anchor="middle" fill="#151515" stroke="#151515" stroke-width="0.25" transform="translate(491.52 363.75) scale(0.94 1)">800</text>
<text x="416.88" y="15.20" font-size="10.75" text-anchor="middle" fill="#151515" stroke="#151515" stroke-width="0.24" >Anti-blooming Timing</text>
<text x="417.08" y="379.80" font-size="10.75" text-anchor="middle" fill="#151515" stroke="#151515" stroke-width="0.24" >clock cycles (clk)</text>
<text x="302.70" y="189.50" font-size="10.7" text-anchor="middle" fill="#151515" stroke="#151515" stroke-width="0.24" transform="rotate(-90 302.7 189.5)">Gate Voltage (rel. units)</text>
<line x1="542.60" y1="90.10" x2="542.60" y2="312.20" stroke="#000" stroke-width="1.3"/>
<path d="M540.50,310.20 L544.70,310.20 L542.60,317.20 Z" fill="#000"/>
<text x="537.40" y="167.30" font-size="10.75" text-anchor="middle" fill="#151515" stroke="#151515" stroke-width="0.24" transform="rotate(-90 537.4 167.3)">Shift direction</text>
</svg>
</body></html>
